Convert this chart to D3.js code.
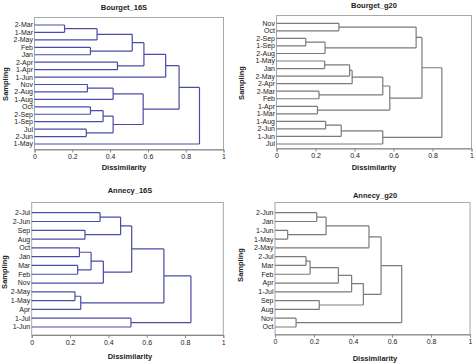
<!DOCTYPE html>
<html>
<head>
<meta charset="utf-8">
<script src="https://cdn.jsdelivr.net/npm/d3@7"></script>
<style>
  body { margin: 0; background: #fff; }
  svg text { font-family: "Liberation Sans", Arial, sans-serif; }
</style>
</head>
<body>
<div id="chart"></div>
<script>
// ---- data: leaf order (top to bottom) and merges [a, b, dissimilarity]
// a / b are a leaf label or the index of an earlier merge
var bourget16sLeaves = ["2-Mar","1-Mar","2-May","Feb","Jan","2-Apr","1-Apr","1-Jun",
                        "Nov","2-Aug","1-Aug","Oct","2-Sep","1-Sep","Jul","2-Jun","1-May"];
var bourget16sMerges = [
  ["2-Mar","1-Mar",0.159], [0,"2-May",0.331], ["Feb","Jan",0.296], [1,2,0.517],
  ["2-Apr","1-Apr",0.439], [3,4,0.579], [5,"1-Jun",0.694], ["Nov","2-Aug",0.28],
  [7,"1-Aug",0.416], ["Oct","2-Sep",0.296], [9,"1-Sep",0.363], ["Jul","2-Jun",0.274],
  [10,11,0.416], [8,12,0.575], [6,13,0.765], [14,"1-May",0.873]
];

var bourgetG20Leaves = ["Nov","Oct","2-Sep","1-Sep","2-Aug","1-May","Jan","2-May","2-Apr",
                        "2-Mar","Feb","1-Apr","1-Mar","1-Aug","2-Jun","1-Jun","Jul"];
var bourgetG20Merges = [
  ["Nov","Oct",0.32], ["2-Sep","1-Sep",0.15], [1,"2-Aug",0.249], [0,2,0.716],
  ["1-May","Jan",0.247], [4,"2-May",0.375], [5,"2-Apr",0.388], ["2-Mar","Feb",0.218],
  [6,7,0.545], ["1-Apr","1-Mar",0.21], [8,9,0.581], [3,10,0.746],
  ["1-Aug","2-Jun",0.252], [12,"1-Jun",0.332], [13,"Jul",0.545], [11,14,0.848]
];

var annecy16sLeaves = ["2-Jul","2-Jun","Sep","Aug","Oct","Jan","Mar","Feb","Nov",
                       "2-May","1-May","Apr","1-Jul","1-Jun"];
var annecy16sMerges = [
  ["2-Jul","2-Jun",0.357], ["Sep","Aug",0.278], [0,1,0.464], ["Oct","Jan",0.249],
  ["Mar","Feb",0.24], [3,4,0.31], [5,"Nov",0.374], [2,6,0.522],
  ["2-May","1-May",0.226], [8,"Apr",0.256], [7,9,0.69], ["1-Jul","1-Jun",0.518],
  [10,11,0.831]
];

var annecyG20Leaves = ["2-Jun","Jan","1-Jun","1-May","2-May","2-Jul","Mar","Feb","Apr",
                       "1-Jul","Sep","Aug","Nov","Oct"];
var annecyG20Merges = [
  ["2-Jun","Jan",0.214], ["1-Jun","1-May",0.065], [0,1,0.262], [2,"2-May",0.482],
  ["2-Jul","Mar",0.159], [4,"Feb",0.18], [5,"Apr",0.325], [6,"1-Jul",0.393],
  ["Sep","Aug",0.227], [7,8,0.453], [3,9,0.544], ["Nov","Oct",0.108],
  [10,11,0.65]
];

var xTicks = [0, 0.2, 0.4, 0.6, 0.8, 1];

var svg = d3.select('#chart').append('svg')
  .attr('width', 474)
  .attr('height', 364);

/* turn the merge list into a nested tree for d3.hierarchy */
function buildTree(merges) {
  var nodes = [];
  merges.forEach(function (m) {
    var kids = [m[0], m[1]].map(function (k) {
      return typeof k === 'number' ? nodes[k] : { name: k, h: 0 };
    });
    nodes.push({ h: m[2], children: kids });
  });
  return nodes[nodes.length - 1];
}

function drawPanel(p) {
  var g = svg.append('g');

  var x = d3.scaleLinear().domain([0, 1]).range([p.x0, p.x1]);
  var y = d3.scalePoint().domain(p.leaves).range([p.yTop, p.yBot]);

  // frame
  g.append('rect')
    .attr('x', p.x0).attr('y', p.frameTop)
    .attr('width', p.x1 - p.x0).attr('height', p.axisY - p.frameTop)
    .attr('fill', 'none')
    .attr('stroke', '#a8a8a8')
    .attr('stroke-width', 1);

  // bottom axis
  var axis = g.append('g')
    .attr('transform', 'translate(0,' + p.axisY + ')')
    .call(d3.axisBottom(x).tickValues(xTicks).tickSize(3).tickPadding(2)
      .tickFormat(function (d) { return d === 0 || d === 1 ? d : d3.format('.1f')(d); }));
  axis.select('.domain').attr('stroke', '#888');
  axis.selectAll('.tick line').attr('stroke', '#888');
  axis.selectAll('.tick text')
    .attr('font-size', '7px')
    .attr('fill', '#222')
    .attr('font-family', '"Liberation Sans", Arial, sans-serif');

  // tree
  var root = d3.hierarchy(buildTree(p.merges));
  root.eachAfter(function (n) {
    if (!n.children) {
      n.py = y(n.data.name);
    } else {
      n.py = d3.mean(n.children, function (c) { return c.py; });
    }
  });

  var path = d3.path();
  root.each(function (n) {
    if (!n.children) return;
    var hx = x(n.data.h);
    path.moveTo(hx, n.children[0].py);
    path.lineTo(hx, n.children[1].py);
    n.children.forEach(function (c) {
      path.moveTo(x(c.data.h), c.py);
      path.lineTo(hx, c.py);
    });
  });
  g.append('path')
    .attr('d', path.toString())
    .attr('fill', 'none')
    .attr('stroke', p.color)
    .attr('stroke-width', 1.2);

  // leaf labels
  g.selectAll('.leaf')
    .data(p.leaves)
    .enter().append('text')
    .attr('class', 'leaf')
    .attr('x', p.x0 - 1.5)
    .attr('y', function (d) { return y(d); })
    .attr('dy', '0.35em')
    .attr('text-anchor', 'end')
    .attr('font-size', '7px')
    .attr('fill', '#222')
    .text(function (d) { return d; });

  g.append('text')
    .attr('x', p.titleX).attr('y', p.titleY)
    .attr('dy', '0.35em')
    .attr('text-anchor', 'middle')
    .attr('font-size', '7.5px')
    .attr('font-weight', 'bold')
    .attr('fill', '#222')
    .text(p.title);

  g.append('text')
    .attr('x', p.titleX).attr('y', p.xLabelY)
    .attr('dy', '0.35em')
    .attr('text-anchor', 'middle')
    .attr('font-size', '7.5px')
    .attr('font-weight', 'bold')
    .attr('fill', '#222')
    .text('Dissimilarity');

  g.append('text')
    .attr('transform', 'translate(' + p.yLabelX + ',' + p.yLabelY + ') rotate(-90)')
    .attr('dy', '0.35em')
    .attr('text-anchor', 'middle')
    .attr('font-size', '7.5px')
    .attr('font-weight', 'bold')
    .attr('fill', '#222')
    .text('Sampling');
}

var blue = '#4b4ba5', grey = '#7a7a7a';

drawPanel({ title: 'Bourget_16S', leaves: bourget16sLeaves, merges: bourget16sMerges, color: blue,
  x0: 34.5, x1: 223.5, frameTop: 17.5, axisY: 149.5, yTop: 25, yBot: 144,
  titleX: 124, titleY: 7.5, xLabelY: 167, yLabelX: 5, yLabelY: 84 });

drawPanel({ title: 'Bourget_g20', leaves: bourgetG20Leaves, merges: bourgetG20Merges, color: grey,
  x0: 276.5, x1: 471.5, frameTop: 15.5, axisY: 148.5, yTop: 23.3, yBot: 144,
  titleX: 374, titleY: 5.5, xLabelY: 167, yLabelX: 241, yLabelY: 83 });

drawPanel({ title: 'Annecy_16S', leaves: annecy16sLeaves, merges: annecy16sMerges, color: blue,
  x0: 31.7, x1: 223.3, frameTop: 202.5, axisY: 335, yTop: 212.7, yBot: 327,
  titleX: 130, titleY: 190.5, xLabelY: 356, yLabelX: 4, yLabelY: 272 });

drawPanel({ title: 'Annecy_g20', leaves: annecyG20Leaves, merges: annecyG20Merges, color: grey,
  x0: 275, x1: 470, frameTop: 202.5, axisY: 334.5, yTop: 212.7, yBot: 327,
  titleX: 375, titleY: 195, xLabelY: 358.5, yLabelX: 240.5, yLabelY: 265 });
</script>
</body>
</html>
